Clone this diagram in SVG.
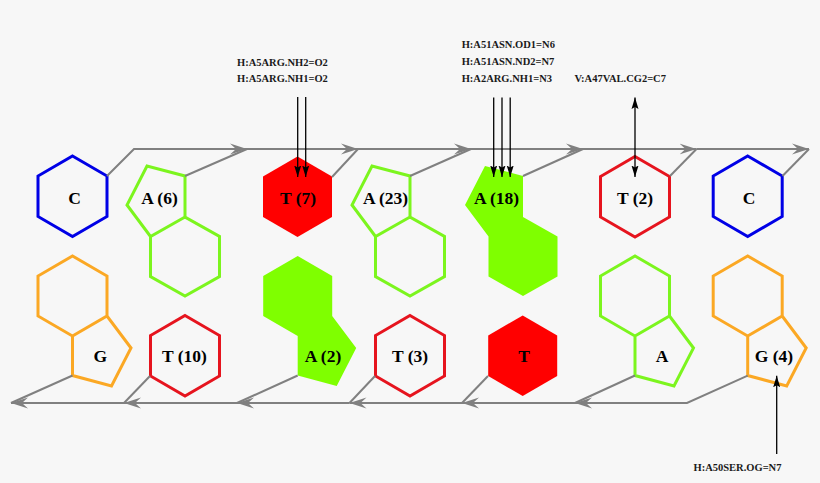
<svg xmlns="http://www.w3.org/2000/svg" width="820" height="483" viewBox="0 0 820 483">
<style>
text{font-family:"Liberation Serif","Times New Roman",serif;font-weight:bold;fill:#000}
.n{font-size:17.500px;text-anchor:middle}
.l{font-size:10.500px;fill:#1a1a1a}
.o{fill:none;stroke-width:3}
.blue{stroke:#0000e6}.red{stroke:#e6141e}.green{stroke:#7cf51e}.orange{stroke:#fba824}
.fr{fill:#ff0000}.fg{fill:#7fff00}
.bb{fill:none;stroke:#808080;stroke-width:2}
.ah{marker-end:url(#g)}
.hb{fill:none;stroke:#000;stroke-width:1.300;marker-end:url(#k)}
</style>
<defs>
<marker id="g" markerUnits="userSpaceOnUse" markerWidth="18" markerHeight="12" refX="17" refY="6" orient="auto"><path d="M17,6L0,0.500L6,6L0,11.500Z" fill="#808080"/></marker>
<marker id="k" markerUnits="userSpaceOnUse" markerWidth="12" markerHeight="8" refX="11.500" refY="4" orient="auto-start-reverse"><path d="M11.500,4L0,0.500L2,4L0,7.500Z" fill="#000"/></marker>
<polygon id="hex" points="0,-40.500 34.500,-20.500 34.500,20 0,40 -34.500,20 -34.500,-20.500"/>
<path id="up" d="M38,-69L3.500,-49.500L-20,-81L0,-120L38,-110L38,-69L72.500,-49.500L72.500,-9.500L38,10L3.500,-9.500L3.500,-49.500"/>
<path id="dn" d="M0,0L34.500,-20L58.500,12L39,50L0,39.500L0,0L-34.500,-20L-34.500,-60L0,-80L34.500,-60L34.500,-20"/>
</defs>
<rect width="820" height="483" fill="#f7f7f7"/>
<g id="c-top"><use href="#hex" x="72.500" y="196.500" class="o blue"/><text class="n" x="74.500" y="204">C</text></g>
<g id="a-6"><use href="#up" x="147" y="286" class="o green"/><text class="n" x="159.500" y="204">A (6)</text></g>
<g id="t-7"><use href="#hex" x="297.500" y="197" class="fr"/><text class="n" x="298" y="204">T (7)</text></g>
<g id="a-23"><use href="#up" x="372" y="286" class="o green"/><text class="n" x="385.500" y="204">A (23)</text></g>
<g id="a-18"><use href="#up" x="485" y="286" class="fg"/><text class="n" x="496.500" y="204">A (18)</text></g>
<g id="t-2"><use href="#hex" x="635" y="197" class="o red"/><text class="n" x="635" y="204">T (2)</text></g>
<g id="c-right"><use href="#hex" x="747.700" y="196.500" class="o blue"/><text class="n" x="749" y="204">C</text></g>
<g id="g"><use href="#dn" x="72.500" y="336" class="o orange"/><text class="n" x="100.300" y="362">G</text></g>
<g id="t-10"><use href="#hex" x="185" y="356" class="o red"/><text class="n" x="184.500" y="362">T (10)</text></g>
<g id="a-2"><use href="#dn" x="297.700" y="336" class="fg"/><text class="n" x="323" y="362">A (2)</text></g>
<g id="t-3"><use href="#hex" x="410" y="356" class="o red"/><text class="n" x="410" y="362">T (3)</text></g>
<g id="t"><use href="#hex" x="522.700" y="356" class="fr"/><text class="n" x="524" y="362">T</text></g>
<g id="a"><use href="#dn" x="635" y="336" class="o green"/><text class="n" x="662" y="362">A</text></g>
<g id="g-4"><use href="#dn" x="747.700" y="336" class="o orange"/><text class="n" x="774" y="362">G (4)</text></g>
<g id="connectors">
<path class="bb ah" d="M107,176L134,149L247,149"/>
<path class="bb" d="M185,176L247,149"/>
<path class="bb ah" d="M247,149L358,149"/>
<path class="bb" d="M332,177L358,149"/>
<path class="bb ah" d="M358,149L471,149"/>
<path class="bb" d="M410,176L471,149"/>
<path class="bb ah" d="M471,149L583,149"/>
<path class="bb" d="M523,176L583,149"/>
<path class="bb ah" d="M583,149L696.500,149"/>
<path class="bb" d="M670,176L696.500,149"/>
<path class="bb ah" d="M696.500,149L809,149"/>
<path class="bb" d="M782.500,176L809,149"/>
<path class="bb ah" d="M747.700,375.700L687,403L575,403"/>
<path class="bb" d="M635,375.500L575,403"/>
<path class="bb ah" d="M575,403L462,403"/>
<path class="bb" d="M488,376L462,403"/>
<path class="bb ah" d="M462,403L349.500,403"/>
<path class="bb" d="M375,376L349.500,403"/>
<path class="bb ah" d="M349.500,403L237,403"/>
<path class="bb" d="M297.700,375.500L237,403"/>
<path class="bb ah" d="M237,403L124,403"/>
<path class="bb" d="M150,376L124,403"/>
<path class="bb ah" d="M124,403L11,403"/>
<path class="bb" d="M72.500,375.500L11,403"/>
<path class="hb" d="M297.700,97V177"/>
<path class="hb" d="M305.700,97V177"/>
<path class="hb" d="M493.700,97.500V177"/>
<path class="hb" d="M502,97.500V177"/>
<path class="hb" d="M510.200,97.500V177"/>
<path class="hb" d="M635,97.500V177" style="marker-start:url(#k)"/>
<path class="hb" d="M776.700,454V375.700"/>
</g>
<g id="labels">
<text class="l" x="237" y="65.500">H:A5ARG.NH2=O2</text>
<text class="l" x="237" y="81.500">H:A5ARG.NH1=O2</text>
<text class="l" x="461.700" y="48">H:A51ASN.OD1=N6</text>
<text class="l" x="461.700" y="65">H:A51ASN.ND2=N7</text>
<text class="l" x="461.700" y="81.500">H:A2ARG.NH1=N3</text>
<text class="l" x="574.500" y="81.500">V:A47VAL.CG2=C7</text>
<text class="l" x="693.500" y="471">H:A50SER.OG=N7</text>
</g>
</svg>
